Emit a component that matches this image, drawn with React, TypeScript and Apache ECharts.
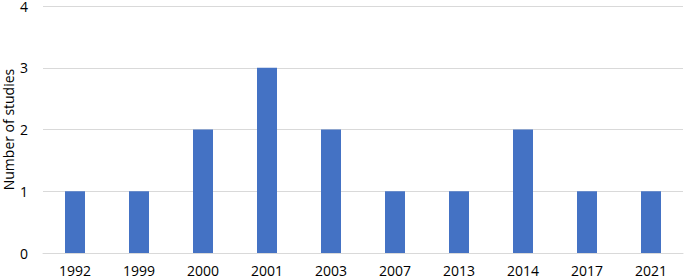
import React, { useEffect, useRef } from "react";
import * as echarts from "echarts";

const categories = ["1992", "1999", "2000", "2001", "2003", "2007", "2013", "2014", "2017", "2021"];
const studies = [1, 1, 2, 3, 2, 1, 1, 2, 1, 1];
const yTicks = { min: 0, max: 4, interval: 1 };
const yAxisName = "Number of studies";

export default function App() {
  const ref = useRef<HTMLDivElement>(null);
  useEffect(() => {
    if (!ref.current) return;
    const chart = echarts.init(ref.current, undefined, { renderer: "svg" });
    const font = "'Open Sans', 'Liberation Sans', sans-serif";
    chart.setOption({
      animation: false,
      grid: {
        left: 43,
        right: 2,
        top: 6,
        bottom: 25,
        containLabel: false,
        outerBoundsMode: "none",
      },
      xAxis: {
        type: "category",
        data: categories,
        axisTick: { show: false },
        axisLine: { show: true, lineStyle: { color: "#d9d9d9", width: 1 } },
        axisLabel: { color: "#000", fontSize: 14, lineHeight: 14, fontFamily: font, margin: 10 },
      },
      yAxis: {
        type: "value",
        min: yTicks.min,
        max: yTicks.max,
        interval: yTicks.interval,
        name: yAxisName,
        nameLocation: "middle",
        nameGap: 28,
        nameMoveOverlap: false,
        nameTextStyle: { color: "#000", fontSize: 14, lineHeight: 14, fontFamily: font },
        axisLine: { show: false },
        axisTick: { show: false },
        axisLabel: { color: "#000", fontSize: 14, lineHeight: 14, fontFamily: font, margin: 15 },
        splitLine: { show: true, lineStyle: { color: "#d9d9d9", width: 1 } },
      },
      series: [
        {
          type: "bar",
          data: studies,
          barWidth: 20,
          itemStyle: { color: "#4472C4" },
        },
      ],
    });
    return () => chart.dispose();
  }, []);
  return (
    <div
      ref={ref}
      style={{ position: "fixed", left: 0, top: 0, width: 685, height: 278, background: "#fff" }}
    />
  );
}
